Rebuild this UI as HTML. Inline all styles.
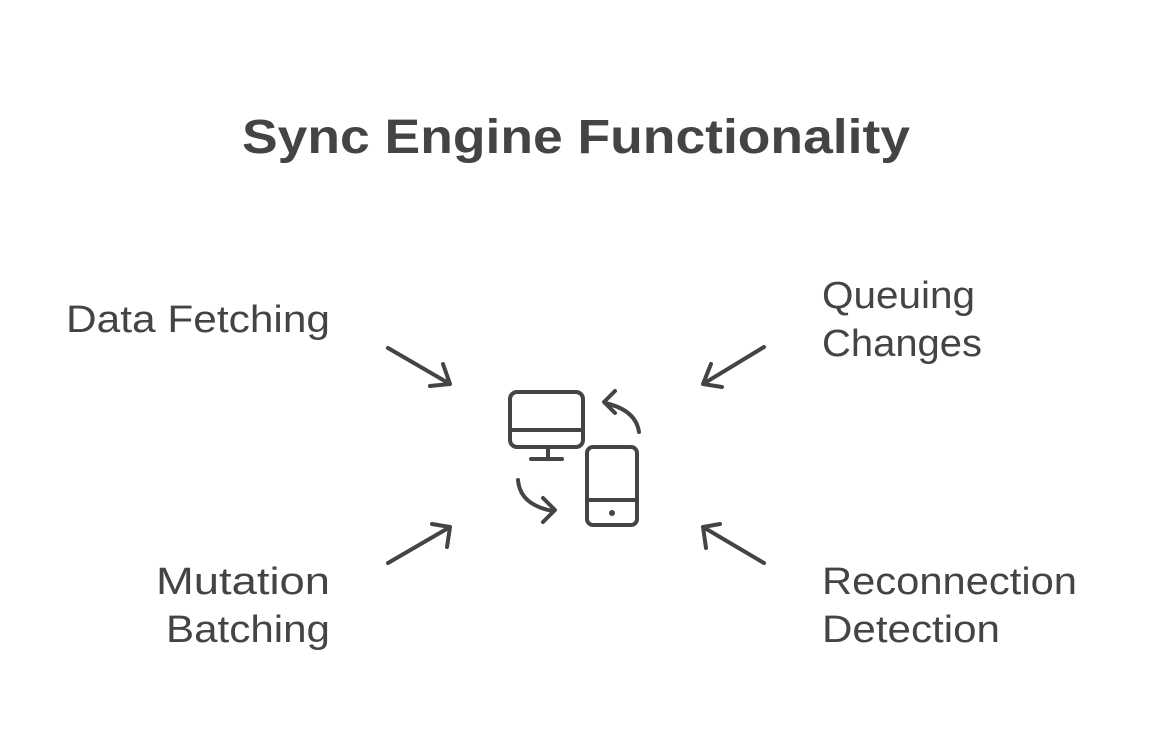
<!DOCTYPE html>
<html><head><meta charset="utf-8"><style>
html,body{margin:0;padding:0;background:#fff;width:1152px;height:744px;overflow:hidden}
svg{display:block}
text{font-family:"Liberation Sans",sans-serif;fill:#444}
</style></head><body>
<svg width="1152" height="744" viewBox="0 0 1152 744">
<text x="242" y="153" font-size="48" font-weight="bold" textLength="668" lengthAdjust="spacingAndGlyphs">Sync Engine Functionality</text>
<g font-size="38">
<text x="66" y="332" textLength="264" lengthAdjust="spacingAndGlyphs">Data Fetching</text>
<text x="822" y="308" textLength="153" lengthAdjust="spacingAndGlyphs">Queuing</text>
<text x="822" y="356" textLength="160" lengthAdjust="spacingAndGlyphs">Changes</text>
<text x="156" y="594" textLength="174" lengthAdjust="spacingAndGlyphs">Mutation</text>
<text x="166" y="642" textLength="164" lengthAdjust="spacingAndGlyphs">Batching</text>
<text x="822" y="594" textLength="255" lengthAdjust="spacingAndGlyphs">Reconnection</text>
<text x="822" y="642" textLength="178" lengthAdjust="spacingAndGlyphs">Detection</text>
</g>
<g fill="none" stroke="#444" stroke-width="4" stroke-linecap="round" stroke-linejoin="round">
<path d="M388 348 L450 384 M443 364 L450 384 L430 386"/>
<path d="M764 347 L703 384 M711 364 L703 384 L722 387"/>
<path d="M388 563 L450 527 M432 524 L450 527 L447 547"/>
<path d="M764 563 L703 527 M720 524 L703 527 L706 548"/>
<rect x="510" y="392" width="73" height="55" rx="7"/>
<path d="M511 430 L582 430 M548 447 L548 458 M531 459 L562 459"/>
<rect x="587" y="447" width="50" height="78" rx="6"/>
<path d="M588 500 L636 500"/>
<path d="M639 432 Q636 410 605 403 M615 391 L604 402 L615 413"/>
<path d="M518 480 Q520 505 553 511 M543 498 L555 510 L543 522"/>
</g>
<circle cx="612" cy="513" r="3" fill="#444"/>
</svg>
</body></html>
